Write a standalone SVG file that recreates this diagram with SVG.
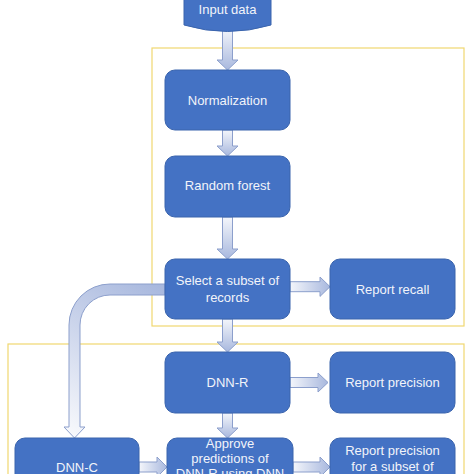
<svg xmlns="http://www.w3.org/2000/svg" width="474" height="474" viewBox="0 0 474 474">
<defs>
<style>
.box{fill:#4472C4;stroke:#3a64ad;stroke-width:1}
.t{font-family:"Liberation Sans",Arial,sans-serif;font-size:13px;fill:#f2f4fa;text-anchor:middle}
.frame{fill:none;stroke:#f0d870;stroke-width:1.2}
.arr{stroke:#8c9fcc;stroke-width:1}
</style>
<linearGradient id="gv" x1="0" y1="0" x2="0" y2="1">
<stop offset="0" stop-color="#f4f6fb"/>
<stop offset="1" stop-color="#a8b8de"/>
</linearGradient>
<linearGradient id="gh" x1="0" y1="0" x2="1" y2="0">
<stop offset="0" stop-color="#f4f6fb"/>
<stop offset="1" stop-color="#a8b8de"/>
</linearGradient>
<linearGradient id="gc" gradientUnits="userSpaceOnUse" x1="165" y1="289" x2="74" y2="438">
<stop offset="0" stop-color="#a8b8de"/>
<stop offset="1" stop-color="#f8f9fc"/>
</linearGradient>
</defs>
<rect width="474" height="474" fill="#ffffff"/>
<rect class="frame" x="152" y="48" width="312" height="278"/>
<rect class="frame" x="8" y="344" width="456" height="140"/>
<g id="connectors">
<path class="arr" fill="url(#gv)" d="M222.5,28 L232.5,28 L232.5,60 L238,60 L227.5,70 L217,60 L222.5,60 Z"/>
<path class="arr" fill="url(#gv)" d="M222.5,130 L232.5,130 L232.5,146 L238,146 L227.5,156 L217,146 L222.5,146 Z"/>
<path class="arr" fill="url(#gv)" d="M222.5,217 L232.5,217 L232.5,249 L238,249 L227.5,259 L217,249 L222.5,249 Z"/>
<path class="arr" fill="url(#gv)" d="M222.5,319 L232.5,319 L232.5,342 L238,342 L227.5,352 L217,342 L222.5,342 Z"/>
<path class="arr" fill="url(#gv)" d="M222.5,413 L232.5,413 L232.5,428 L238,428 L227.5,438 L217,428 L222.5,428 Z"/>
<path class="arr" fill="url(#gh)" d="M290,281.7 L320,281.7 L320,277 L330,286.7 L320,296.4 L320,291.7 L290,291.7 Z"/>
<path class="arr" fill="url(#gh)" d="M290,377.5 L318,377.5 L318,373 L328,382.5 L318,392 L318,387.5 L290,387.5 Z"/>
<path class="arr" fill="url(#gh)" d="M139,462 L157,462 L157,457 L167,467 L157,477 L157,472 L139,472 Z"/>
<path class="arr" fill="url(#gh)" d="M293,462 L320,462 L320,457 L330,467 L320,477 L320,472 L293,472 Z"/>
<path class="arr" fill="url(#gc)" d="M165,284 L110,284 A41,41 0 0 0 69,325 L69,427 L64,427 L74.5,438 L85,427 L80,427 L80,325 A30,30 0 0 1 110,295 L165,295 Z"/>
</g>
<g id="input">
<path class="box" d="M184,-5 L271,-5 L271,25 Q227.5,38 184,25 Z"/>
<text class="t" x="227.5" y="14">Input data</text>
</g>
<g id="normalization">
<rect class="box" x="165" y="70" width="125" height="60" rx="10"/>
<text class="t" x="227.5" y="104.5">Normalization</text>
</g>
<g id="random-forest">
<rect class="box" x="165" y="156" width="125" height="61" rx="10"/>
<text class="t" x="227.5" y="190">Random forest</text>
</g>
<g id="select">
<rect class="box" x="165" y="259" width="125" height="60" rx="10"/>
<text class="t" x="227.5" y="285">Select a subset of</text>
<text class="t" x="227.5" y="302">records</text>
</g>
<g id="report-recall">
<rect class="box" x="330" y="259" width="125" height="60" rx="10"/>
<text class="t" x="392.5" y="293.5">Report recall</text>
</g>
<g id="dnn-r">
<rect class="box" x="165" y="352" width="125" height="61" rx="10"/>
<text class="t" x="227.5" y="387">DNN-R</text>
</g>
<g id="report-precision">
<rect class="box" x="330" y="352" width="125" height="61" rx="10"/>
<text class="t" x="392.5" y="387">Report precision</text>
</g>
<g id="dnn-c">
<rect class="box" x="15" y="438" width="124" height="60" rx="10"/>
<text class="t" x="77" y="471.5">DNN-C</text>
</g>
<g id="approve">
<rect class="box" x="167" y="438" width="126" height="60" rx="10"/>
<text class="t" x="230" y="448">Approve</text>
<text class="t" x="230" y="463">predictions of</text>
<text class="t" x="230" y="478">DNN-R using DNN</text>
</g>
<g id="report-precision-subset">
<rect class="box" x="330" y="438" width="125" height="60" rx="10"/>
<text class="t" x="392.5" y="454.5">Report precision</text>
<text class="t" x="392.5" y="470.5">for a subset of</text>
</g>
</svg>
